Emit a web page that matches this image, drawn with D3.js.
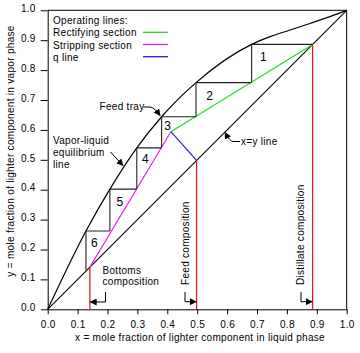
<!DOCTYPE html>
<html><head><meta charset="utf-8">
<script src="https://cdn.jsdelivr.net/npm/d3@7"></script>
<style>
body{margin:0;background:#fff;}
svg{display:block;font-family:"Liberation Sans",Arial,sans-serif;}
text{letter-spacing:0.3px;}
</style></head><body>
<svg id="c" width="360" height="353"></svg>
<script>
// ---- data ----
const eqX = [0, 0.128, 0.208, 0.298, 0.381, 0.496, 0.682, 0.744, 0.811, 0.877, 0.944, 1];
const eqY = [0, 0.262, 0.402, 0.540, 0.644, 0.758, 0.886, 0.912, 0.934, 0.956, 0.979, 1];
const stageLabels = ["1", "2", "3", "4", "5", "6"];
const stageX = [0.682, 0.496, 0.381, 0.298, 0.208, 0.128];   // x on equilibrium curve
const stageY = [0.886, 0.758, 0.644, 0.540, 0.402, 0.262];   // y of horizontal step
const stageDrop = [0.761, 0.644, 0.542, 0.404, 0.262, 0.131]; // bottom of vertical step
const xD = 0.886, xF = 0.498, xB = 0.141;
const qPoint = [0.412, 0.594];
const tickValues = [0, 0.1, 0.2, 0.3, 0.4, 0.5, 0.6, 0.7, 0.8, 0.9, 1.0];
const legendItems = ["Rectifying section", "Stripping section", "q line"];
const legendColors = ["#22dd22", "#ee22ee", "#2222dd"];

// ---- layout ----
const svg = d3.select("#c");
const x = d3.scaleLinear().domain([0, 1]).range([47.7, 346.7]);
const y = d3.scaleLinear().domain([0, 1]).range([309.3, 10.3]);
const red = "#dd2020";

svg.append("defs").append("marker")
  .attr("id", "ah").attr("viewBox", "0 0 10 10").attr("refX", 9).attr("refY", 5)
  .attr("markerWidth", 7).attr("markerHeight", 7).attr("markerUnits", "userSpaceOnUse")
  .attr("orient", "auto")
  .append("path").attr("d", "M0,0L10,5L0,10z").attr("fill", "#000");

// axes
const gx = svg.append("g").attr("transform", `translate(0,${y(0)})`)
  .call(d3.axisBottom(x).tickValues(tickValues).tickFormat(d3.format(".1f")).tickSize(5).tickSizeOuter(0).tickPadding(7));
const gy = svg.append("g").attr("transform", `translate(${x(0)},0)`)
  .call(d3.axisLeft(y).tickValues(tickValues).tickFormat(d3.format(".1f")).tickSize(7).tickSizeOuter(0).tickPadding(5));
[gx, gy].forEach(g => {
  g.selectAll("text").attr("font-size", 10).attr("font-family", '"Liberation Sans",Arial,sans-serif').attr("fill", "#000");
  g.selectAll("line,path").attr("stroke", "#000");
});
gy.selectAll("text").attr("dy", "0.12em");
// frame top/right
svg.append("path").attr("d", `M${x(0)},${y(1)}H${x(1)}V${y(0)}`).attr("fill", "none").attr("stroke", "#000");

// diagonal
svg.append("line").attr("x1", x(0)).attr("y1", y(0)).attr("x2", x(1)).attr("y2", y(1)).attr("stroke", "#000").attr("stroke-width", 1.1);

// equilibrium curve
const eqPts = eqX.map((v, i) => [v, eqY[i]]);
svg.append("path").datum(eqPts)
  .attr("d", d3.line().x(d => x(d[0])).y(d => y(d[1])).curve(d3.curveMonotoneX))
  .attr("fill", "none").attr("stroke", "#000").attr("stroke-width", 1.2);

// red composition lines
[xB, xF, xD].forEach(v => {
  svg.append("line").attr("x1", x(v)).attr("x2", x(v)).attr("y1", y(0)).attr("y2", y(v))
    .attr("stroke", red).attr("stroke-width", 1.3);
});

// operating lines
const lineGen = d3.line().x(d => x(d[0])).y(d => y(d[1]));
svg.append("path").datum([[xD, xD], qPoint]).attr("d", lineGen).attr("stroke", legendColors[0]).attr("stroke-width", 1.2).attr("fill", "none");
svg.append("path").datum([[xB, xB], qPoint]).attr("d", lineGen).attr("stroke", legendColors[1]).attr("stroke-width", 1.2).attr("fill", "none");
svg.append("path").datum([[xF, xF], qPoint]).attr("d", lineGen).attr("stroke", legendColors[2]).attr("stroke-width", 1.2).attr("fill", "none");

// stairs
let stairPts = [[xD, xD]];
stageX.forEach((sx, i) => { stairPts.push([sx, stageY[i]]); stairPts.push([sx, stageDrop[i]]); });
for (let i = 0; i < stageX.length; i++) {
  const startX = i === 0 ? xD : stageX[i - 1];
  svg.append("path").datum([[startX, stageY[i]], [stageX[i], stageY[i]], [stageX[i], stageDrop[i]]])
    .attr("d", lineGen).attr("fill", "none").attr("stroke", "#222").attr("stroke-width", 1.1);
}

// stage numbers
const numPos = [[0.71, 0.83], [0.53, 0.70], [0.39, 0.60], [0.315, 0.49], [0.23, 0.345], [0.145, 0.21]];
stageLabels.forEach((s, i) => {
  svg.append("text").attr("x", x(numPos[i][0])).attr("y", y(numPos[i][1])).attr("font-size", 12).text(s);
});

// legend
svg.append("text").attr("x", 53).attr("y", 24).attr("font-size", 10).text("Operating lines:");
legendItems.forEach((t, i) => {
  svg.append("text").attr("x", 53).attr("y", 36.3 + i * 12.2).attr("font-size", 10).text(t);
  svg.append("line").attr("x1", 143).attr("x2", 168).attr("y1", 32.3 + i * 12.2).attr("y2", 32.3 + i * 12.2)
    .attr("stroke", legendColors[i]).attr("stroke-width", 1.3);
});

// annotations
function label(lines, xx, yy, lh) {
  lines.forEach((l, i) => svg.append("text").attr("x", xx).attr("y", yy + i * lh).attr("font-size", 10).text(l));
}
label(["Feed tray"], 99.5, 110, 12);
svg.append("path").attr("d", "M143.5,107H150Q154,107 160,115.5").attr("fill", "none").attr("stroke", "#000").attr("marker-end", "url(#ah)");
label(["Vapor-liquid", "equilibrium", "line"], 53, 143.5, 12.3);
svg.append("path").attr("d", "M110.5,152L123,165.5").attr("fill", "none").attr("stroke", "#000").attr("marker-end", "url(#ah)");
label(["x=y line"], 241, 145, 12);
svg.append("path").attr("d", "M240,141.5H233Q230,141.5 225,132.5").attr("fill", "none").attr("stroke", "#000").attr("marker-end", "url(#ah)");
label(["Bottoms", "composition"], 102.5, 273.5, 11.7);
svg.append("path").attr("d", `M105.5,292V302H${x(xB) + 0.5}`).attr("fill", "none").attr("stroke", "#000").attr("marker-end", "url(#ah)");

function vlabel(t, xx, yy) {
  svg.append("text").attr("transform", `translate(${xx},${yy}) rotate(-90)`).attr("font-size", 10).text(t);
}
vlabel("Feed composition", 188.5, 285);
svg.append("path").attr("d", `M185,292V301.7H${x(xF) - 0.5}`).attr("fill", "none").attr("stroke", "#000").attr("marker-end", "url(#ah)");
vlabel("Distillate composition", 304, 285);
svg.append("path").attr("d", `M301,292V301.7H${x(xD) - 0.5}`).attr("fill", "none").attr("stroke", "#000").attr("marker-end", "url(#ah)");

// axis titles
svg.append("text").attr("x", 200).attr("y", 341).attr("text-anchor", "middle").attr("font-size", 10)
  .text("x = mole fraction of lighter component in liquid phase");
svg.append("text").attr("transform", "translate(13.5,151) rotate(-90)").attr("text-anchor", "middle").attr("font-size", 10)
  .text("y = mole fraction of lighter component in vapor phase");
</script></body></html>
